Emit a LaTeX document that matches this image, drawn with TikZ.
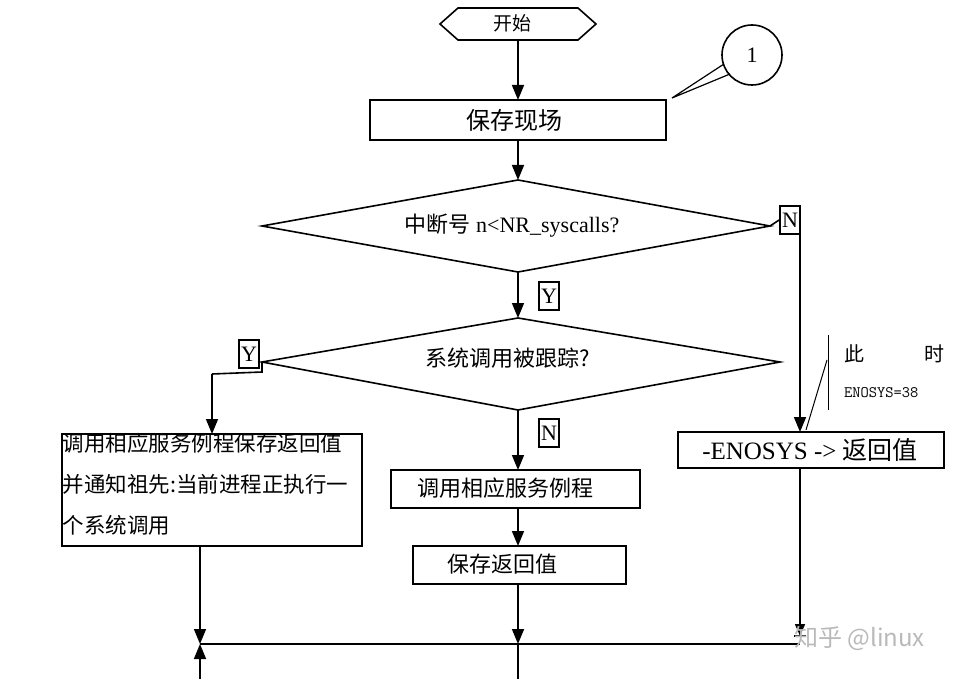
\documentclass[tikz,border=0pt]{standalone}
\usepackage{fontspec}
\setmainfont{Liberation Serif}
\newfontfamily\cjk{Noto Sans CJK SC}
\usetikzlibrary{arrows.meta,shapes.geometric,shapes.callouts}
\begin{document}
\begin{tikzpicture}[x=1pt,y=-1pt,line width=1.6pt,
  lab/.style={draw,rectangle,inner sep=2pt,minimum width=20pt,minimum height=28pt,font=\fontsize{22}{24}\selectfont},
  ar/.style={-{Triangle[length=15pt,width=12pt]}},
  ln/.style={}]
\useasboundingbox (0,0) rectangle (980,679);
% start
\draw (440,24) -- (458,8) -- (578,8) -- (596,24) -- (578,40) -- (458,40) -- cycle;
\node[font=\cjk\fontsize{19}{22}\selectfont] (start) at (512,23) {开始};
\coordinate (startb) at (518,40);
% save
\draw (370,100) rectangle (666,140);
\node[font=\cjk\fontsize{24}{26}\selectfont] (save) at (514,120) {保存现场};
\draw[ar] (startb) -- (518,100);
% callout
\node[draw,circle,minimum size=60pt,font=\fontsize{22}{24}\selectfont] (c1) at (752,55) {1};
\coordinate (ctail) at (672,98);
\draw[line width=1.2pt] (724,64) -- (ctail) -- (730,74);
% diamond 1
\draw (262,226) -- (518,180) -- (770,226) -- (518,272) -- cycle;
\node[font=\fontsize{22}{24}\selectfont] (d1) at (512,226) {{\cjk 中断号} n<NR\_syscalls?};
\draw[ar] (518,140) -- (518,180);
% diamond 2
\draw (262,362) -- (518,318) -- (780,362) -- (518,410) -- cycle;
\node[font=\cjk\fontsize{22}{24}\selectfont] (d2) at (508,358) {系统调用被跟踪?};
\draw[ar] (518,272) -- (518,318);
\node[lab] (y1) at (549,296) {Y};
% N right
\node[lab] (n1) at (790,220) {N};
\draw[ln] (770,226) -- (n1.west);
% left box
\draw (62,434) rectangle (362,546);
\node[anchor=north west,align=left,inner sep=0pt,font=\cjk\fontsize{21.5}{41}\selectfont] (lb) at (62,432) {调用相应服务例程保存返回值\\并通知祖先:当前进程正执行一\\个系统调用};
\node[lab] (y2) at (249,354) {Y};
\draw[ln] (262,362) -- (262,372) -- (212,374);
\draw[ar] (212,374) -- (212,434);
% middle boxes
\node[lab] (n2) at (549,433) {N};
\draw[ar] (518,410) -- (518,470);
\draw (391,470) rectangle (640,508);
\node[font=\cjk\fontsize{22}{24}\selectfont] (call) at (505,488) {调用相应服务例程};
\draw[ar] (518,508) -- (518,546);
\draw (413,546) rectangle (626,584);
\node[font=\cjk\fontsize{22}{24}\selectfont] (sret) at (502,564) {保存返回值};
% enosys box
\draw (678,432) rectangle (944,468);
\node[font=\fontsize{25}{26}\selectfont] (en) at (810,450) {-ENOSYS -> {\cjk 返回值}};
\draw[ar] (800,235) -- (800,432);
% annotation
\draw[line width=1pt] (828,335) -- (828,410);
\draw[line width=1pt] (827,360) -- (806,430);
\node[anchor=west,font=\cjk\fontsize{20}{22}\selectfont] (ci) at (840,354) {此};
\node[anchor=west,font=\cjk\fontsize{20}{22}\selectfont] (sh) at (920,354) {时};
\node[anchor=west,font=\ttfamily\fontsize{16}{18}\selectfont] (eq) at (840,393) {ENOSYS=38};
% bottom
\draw[ln] (200,644) -- (800,644);
\draw[ar] (200,546) -- (200,644);
\draw[ar] (200,679) -- (200,644);
\draw[ar] (518,584) -- (518,644);
\draw[ln] (518,644) -- (518,679);
\draw[-{Triangle[length=12pt,width=10pt]}] (800,468) -- (800,636);
\draw[line width=2.5pt] (794,636) -- (806,636);
\node[anchor=west,text=gray!55,font=\cjk\fontsize{24}{26}\selectfont] (wm) at (790,638) {知乎 @linux};
\end{tikzpicture}
\end{document}
